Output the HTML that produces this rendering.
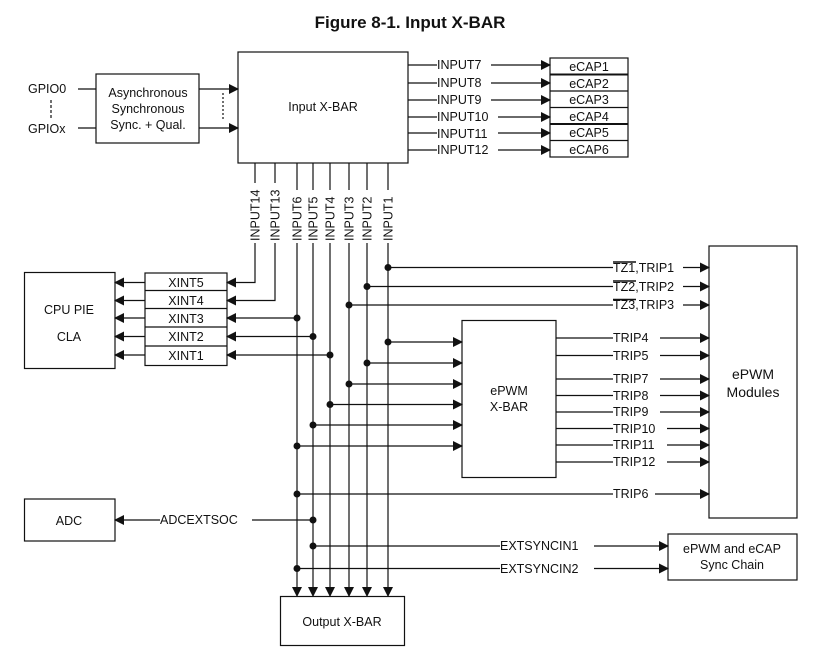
<!DOCTYPE html>
<html><head><meta charset="utf-8"><style>
html,body{margin:0;padding:0;background:#fff;}
svg{display:block;font-family:"Liberation Sans",Arial,sans-serif;}
text{font-size:12.5px;fill:#111;}
</style></head><body>
<svg width="813" height="662" viewBox="0 0 813 662" xmlns="http://www.w3.org/2000/svg">
<defs>
<marker id="a" markerWidth="10" markerHeight="10" refX="9" refY="5" orient="auto" markerUnits="userSpaceOnUse">
<path d="M0,0 L10,5 L0,10 z" fill="#111"/></marker>
</defs>
<text x="410" y="28" text-anchor="middle" style="font-size:17px;font-weight:bold">Figure 8-1. Input X-BAR</text>

<g stroke="#111" stroke-width="1.2" fill="none">
<line x1="78" y1="89" x2="96" y2="89"/>
<line x1="78" y1="128" x2="96" y2="128"/>
<line x1="51" y1="100" x2="51" y2="120" stroke-dasharray="3,2"/>
<rect x="96" y="74" width="103" height="69"/>
<line x1="199" y1="89" x2="238" y2="89" marker-end="url(#a)"/>
<line x1="199" y1="128" x2="238" y2="128" marker-end="url(#a)"/>
<line x1="223" y1="93" x2="223" y2="120" stroke-dasharray="2,2"/>
<rect x="238" y="52" width="170" height="111"/>
<rect x="550" y="58" width="78" height="99"/>
<line x1="550" y1="74.5" x2="628" y2="74.5" stroke-width="2"/>
<line x1="550" y1="91" x2="628" y2="91"/>
<line x1="550" y1="107.5" x2="628" y2="107.5"/>
<line x1="550" y1="124" x2="628" y2="124" stroke-width="2"/>
<line x1="550" y1="140.5" x2="628" y2="140.5"/>
</g>
<text x="28" y="93">GPIO0</text>
<text x="28" y="133">GPIOx</text>
<text x="148" y="97" text-anchor="middle">Asynchronous</text>
<text x="148" y="113" text-anchor="middle">Synchronous</text>
<text x="148" y="129" text-anchor="middle">Sync. + Qual.</text>
<text x="323" y="111" text-anchor="middle">Input  X-BAR</text>

<g stroke="#111" stroke-width="1.2" fill="none">
<line x1="408" y1="65" x2="437" y2="65"/><line x1="491" y1="65" x2="550" y2="65" marker-end="url(#a)"/>
<line x1="408" y1="83" x2="437" y2="83"/><line x1="491" y1="83" x2="550" y2="83" marker-end="url(#a)"/>
<line x1="408" y1="100" x2="437" y2="100"/><line x1="491" y1="100" x2="550" y2="100" marker-end="url(#a)"/>
<line x1="408" y1="117" x2="437" y2="117"/><line x1="498" y1="117" x2="550" y2="117" marker-end="url(#a)"/>
<line x1="408" y1="133" x2="437" y2="133"/><line x1="498" y1="133" x2="550" y2="133" marker-end="url(#a)"/>
<line x1="408" y1="150" x2="437" y2="150"/><line x1="498" y1="150" x2="550" y2="150" marker-end="url(#a)"/>
</g>
<text x="437" y="69">INPUT7</text>
<text x="437" y="87">INPUT8</text>
<text x="437" y="104">INPUT9</text>
<text x="437" y="121">INPUT10</text>
<text x="437" y="138">INPUT11</text>
<text x="437" y="154">INPUT12</text>
<g text-anchor="middle">
<text x="589" y="71">eCAP1</text><text x="589" y="88">eCAP2</text><text x="589" y="104">eCAP3</text>
<text x="589" y="121">eCAP4</text><text x="589" y="137">eCAP5</text><text x="589" y="154">eCAP6</text>
</g>

<g>
<text transform="translate(259.5,241) rotate(-90)">INPUT14</text>
<text transform="translate(279.5,241) rotate(-90)">INPUT13</text>
<text transform="translate(301.5,241) rotate(-90)">INPUT6</text>
<text transform="translate(317.5,241) rotate(-90)">INPUT5</text>
<text transform="translate(334.5,241) rotate(-90)">INPUT4</text>
<text transform="translate(353.5,241) rotate(-90)">INPUT3</text>
<text transform="translate(371.5,241) rotate(-90)">INPUT2</text>
<text transform="translate(392.5,241) rotate(-90)">INPUT1</text>
</g>
<g stroke="#111" stroke-width="1.2" fill="none">
<line x1="255" y1="163" x2="255" y2="183"/><line x1="275" y1="163" x2="275" y2="183"/>
<line x1="297" y1="163" x2="297" y2="190"/><line x1="313" y1="163" x2="313" y2="190"/>
<line x1="330" y1="163" x2="330" y2="190"/><line x1="349" y1="163" x2="349" y2="190"/>
<line x1="367" y1="163" x2="367" y2="190"/><line x1="388" y1="163" x2="388" y2="190"/>
<polyline points="255,243 255,282.5 227,282.5" marker-end="url(#a)"/>
<polyline points="275,243 275,300.5 227,300.5" marker-end="url(#a)"/>
<line x1="297" y1="243" x2="297" y2="596" marker-end="url(#a)"/>
<line x1="313" y1="243" x2="313" y2="596" marker-end="url(#a)"/>
<line x1="330" y1="243" x2="330" y2="596" marker-end="url(#a)"/>
<line x1="349" y1="243" x2="349" y2="596" marker-end="url(#a)"/>
<line x1="367" y1="243" x2="367" y2="596" marker-end="url(#a)"/>
<line x1="388" y1="243" x2="388" y2="596" marker-end="url(#a)"/>
<line x1="297" y1="318" x2="227" y2="318" marker-end="url(#a)"/>
<line x1="313" y1="336.5" x2="227" y2="336.5" marker-end="url(#a)"/>
<line x1="330" y1="355" x2="227" y2="355" marker-end="url(#a)"/>
<rect x="145" y="273" width="82" height="92.5"/>
<line x1="145" y1="290.5" x2="227" y2="290.5"/><line x1="145" y1="308.5" x2="227" y2="308.5"/>
<line x1="145" y1="327" x2="227" y2="327"/><line x1="145" y1="346" x2="227" y2="346"/>
<line x1="145" y1="282.5" x2="115" y2="282.5" marker-end="url(#a)"/>
<line x1="145" y1="300.5" x2="115" y2="300.5" marker-end="url(#a)"/>
<line x1="145" y1="318" x2="115" y2="318" marker-end="url(#a)"/>
<line x1="145" y1="336.5" x2="115" y2="336.5" marker-end="url(#a)"/>
<line x1="145" y1="355" x2="115" y2="355" marker-end="url(#a)"/>
<rect x="24.5" y="272.5" width="90.5" height="96"/>
<line x1="388" y1="267.5" x2="613" y2="267.5"/><line x1="683" y1="267.5" x2="709" y2="267.5" marker-end="url(#a)"/>
<line x1="367" y1="286.5" x2="613" y2="286.5"/><line x1="683" y1="286.5" x2="709" y2="286.5" marker-end="url(#a)"/>
<line x1="349" y1="305" x2="613" y2="305"/><line x1="683" y1="305" x2="709" y2="305" marker-end="url(#a)"/>
<line x1="388" y1="342" x2="462" y2="342" marker-end="url(#a)"/>
<line x1="367" y1="363" x2="462" y2="363" marker-end="url(#a)"/>
<line x1="349" y1="384" x2="462" y2="384" marker-end="url(#a)"/>
<line x1="330" y1="404.5" x2="462" y2="404.5" marker-end="url(#a)"/>
<line x1="313" y1="425" x2="462" y2="425" marker-end="url(#a)"/>
<line x1="297" y1="446" x2="462" y2="446" marker-end="url(#a)"/>
<rect x="462" y="320.5" width="94" height="157"/>
<line x1="556" y1="338" x2="613" y2="338"/><line x1="660" y1="338" x2="709" y2="338" marker-end="url(#a)"/>
<line x1="556" y1="355.5" x2="613" y2="355.5"/><line x1="660" y1="355.5" x2="709" y2="355.5" marker-end="url(#a)"/>
<line x1="556" y1="379" x2="613" y2="379"/><line x1="660" y1="379" x2="709" y2="379" marker-end="url(#a)"/>
<line x1="556" y1="395.5" x2="613" y2="395.5"/><line x1="660" y1="395.5" x2="709" y2="395.5" marker-end="url(#a)"/>
<line x1="556" y1="412" x2="613" y2="412"/><line x1="660" y1="412" x2="709" y2="412" marker-end="url(#a)"/>
<line x1="556" y1="428.5" x2="613" y2="428.5"/><line x1="667" y1="428.5" x2="709" y2="428.5" marker-end="url(#a)"/>
<line x1="556" y1="445" x2="613" y2="445"/><line x1="667" y1="445" x2="709" y2="445" marker-end="url(#a)"/>
<line x1="556" y1="462" x2="613" y2="462"/><line x1="667" y1="462" x2="709" y2="462" marker-end="url(#a)"/>
<line x1="297" y1="494" x2="613" y2="494"/><line x1="655" y1="494" x2="709" y2="494" marker-end="url(#a)"/>
<rect x="709" y="246" width="88" height="272"/>
<line x1="313" y1="520" x2="252" y2="520"/>
<line x1="160" y1="520" x2="115" y2="520" marker-end="url(#a)"/>
<rect x="24.5" y="499" width="90.5" height="42"/>
<line x1="313" y1="546" x2="500" y2="546"/><line x1="594" y1="546" x2="668" y2="546" marker-end="url(#a)"/>
<line x1="297" y1="568.5" x2="500" y2="568.5"/><line x1="594" y1="568.5" x2="668" y2="568.5" marker-end="url(#a)"/>
<rect x="668" y="534" width="129" height="46"/>
<rect x="280.5" y="596.5" width="124" height="49"/>
</g>
<g fill="#111">
<circle cx="297" cy="318" r="3.5"/><circle cx="313" cy="336.5" r="3.5"/><circle cx="330" cy="355" r="3.5"/>
<circle cx="388" cy="267.5" r="3.5"/><circle cx="367" cy="286.5" r="3.5"/><circle cx="349" cy="305" r="3.5"/>
<circle cx="388" cy="342" r="3.5"/><circle cx="367" cy="363" r="3.5"/><circle cx="349" cy="384" r="3.5"/>
<circle cx="330" cy="404.5" r="3.5"/><circle cx="313" cy="425" r="3.5"/><circle cx="297" cy="446" r="3.5"/>
<circle cx="297" cy="494" r="3.5"/><circle cx="313" cy="520" r="3.5"/><circle cx="313" cy="546" r="3.5"/>
<circle cx="297" cy="568.5" r="3.5"/>
</g>
<g text-anchor="middle">
<text x="186" y="287">XINT5</text><text x="186" y="305">XINT4</text><text x="186" y="323">XINT3</text>
<text x="186" y="341">XINT2</text><text x="186" y="360">XINT1</text>
<text x="69" y="314">CPU PIE</text><text x="69" y="341">CLA</text>
<text x="69" y="525">ADC</text>
<text x="509" y="395">ePWM</text><text x="509" y="411">X-BAR</text>
<text x="753" y="379" style="font-size:14px">ePWM</text><text x="753" y="397" style="font-size:14px">Modules</text>
<text x="732" y="553">ePWM and eCAP</text><text x="732" y="569">Sync Chain</text>
<text x="342" y="626">Output X-BAR</text>
</g>
<text x="613" y="272">TZ1,TRIP1</text>
<text x="613" y="291">TZ2,TRIP2</text>
<text x="613" y="309">TZ3,TRIP3</text>
<g stroke="#111" stroke-width="1.5">
<line x1="613" y1="262" x2="636" y2="262"/><line x1="613" y1="281" x2="636" y2="281"/><line x1="613" y1="299.5" x2="636" y2="299.5"/>
</g>
<text x="613" y="342">TRIP4</text><text x="613" y="360">TRIP5</text><text x="613" y="383">TRIP7</text>
<text x="613" y="400">TRIP8</text><text x="613" y="416">TRIP9</text><text x="613" y="433">TRIP10</text>
<text x="613" y="449">TRIP11</text><text x="613" y="466">TRIP12</text><text x="613" y="498">TRIP6</text>
<text x="160" y="524">ADCEXTSOC</text>
<text x="500" y="550">EXTSYNCIN1</text><text x="500" y="573">EXTSYNCIN2</text>
</svg>
</body></html>
